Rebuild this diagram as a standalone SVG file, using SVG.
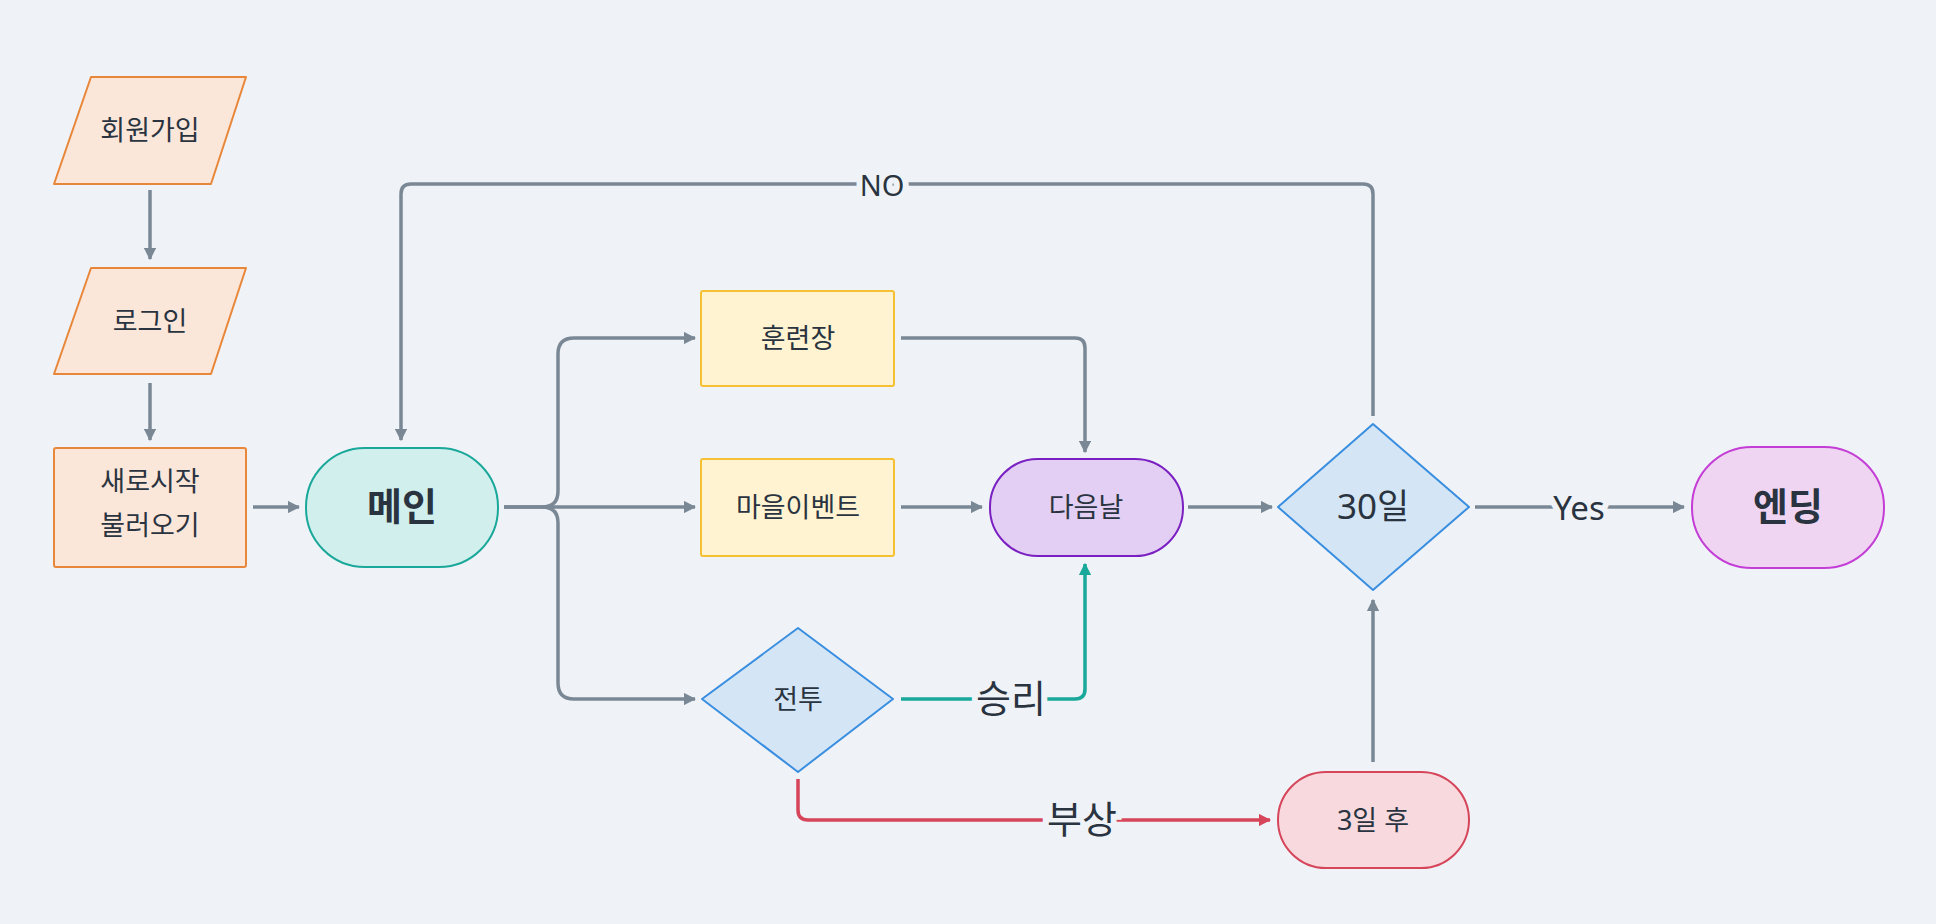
<svg xmlns="http://www.w3.org/2000/svg" width="1936" height="924" viewBox="0 0 1936 924">
<defs>
<marker id="ag" viewBox="0 0 10 10" refX="9" refY="5" markerWidth="3.5" markerHeight="3.5" orient="auto"><path d="M0,0L10,5L0,10z" fill="#7a8896"/></marker>
<marker id="at" viewBox="0 0 10 10" refX="9" refY="5" markerWidth="3.5" markerHeight="3.5" orient="auto"><path d="M0,0L10,5L0,10z" fill="#1aa89a"/></marker>
<marker id="ar" viewBox="0 0 10 10" refX="9" refY="5" markerWidth="3.5" markerHeight="3.5" orient="auto"><path d="M0,0L10,5L0,10z" fill="#d6455a"/></marker>
</defs>
<style>
text{font-family:"Noto Sans","Noto Sans CJK KR",sans-serif;fill:#2a3440;text-anchor:middle;dominant-baseline:central}
.t{font-size:27px}
.b{font-size:38px;font-weight:bold}
.l{font-size:29px;stroke:#eff3f7;stroke-width:12px;paint-order:stroke}
.k{font-size:38px}
.c{fill:none;stroke:#7a8896;stroke-width:3.5;marker-end:url(#ag)}
.io{fill:#fbe6da;stroke:#e8873a;stroke-width:2}
.y{fill:#fff3d1;stroke:#f5c133;stroke-width:2}
</style>
<rect width="1936" height="924" fill="#eff3f7"/>
<g id="connectors">
<path class="c" d="M150,190V259"/>
<path class="c" d="M150,383V440"/>
<path class="c" d="M253,507H299"/>
<path class="c" d="M504,507H542Q558,507 558,491V354Q558,338 574,338H695"/>
<path class="c" d="M504,507H695"/>
<path class="c" d="M542,507Q558,507 558,523V683Q558,699 574,699H695"/>
<path class="c" d="M901,338H1075Q1085,338 1085,348V452"/>
<path class="c" d="M901,507H982"/>
<path fill="none" stroke="#1aa89a" stroke-width="3.5" marker-end="url(#at)" d="M901,699H1075Q1085,699 1085,689V564"/>
<path fill="none" stroke="#d6455a" stroke-width="3.5" marker-end="url(#ar)" d="M798,779V810Q798,820 808,820H1270"/>
<path class="c" d="M1188,507H1272"/>
<path class="c" d="M1373,416V194Q1373,184 1363,184H411Q401,184 401,194V440"/>
<path class="c" d="M1475,507H1684"/>
<path class="c" d="M1373,762V600"/>
<text class="l" x="882" y="184">NO</text>
<text class="l k" x="1011" y="697">승리</text>
<text class="l k" x="1082" y="818">부상</text>
<text class="l" style="font-size:33px" x="1579" y="507">Yes</text>
</g>
<g id="signup"><polygon class="io" points="91,77 246,77 211,184 54,184" stroke-linejoin="round"/><text class="t" x="150" y="129">회원가입</text></g>
<g id="login"><polygon class="io" points="91,268 246,268 211,374 54,374" stroke-linejoin="round"/><text class="t" x="150" y="320">로그인</text></g>
<g id="load"><rect class="io" x="54" y="448" width="192" height="119" rx="2"/><text class="t" x="150" y="480">새로시작</text><text class="t" x="150" y="524">불러오기</text></g>
<g id="main"><rect x="306" y="448" width="192" height="119" rx="59" fill="#d1efec" stroke="#1aa89a" stroke-width="2"/><text class="b" x="402" y="505">메인</text></g>
<g id="train"><rect class="y" x="701" y="291" width="193" height="95" rx="2"/><text class="t" x="798" y="337">훈련장</text></g>
<g id="village"><rect class="y" x="701" y="459" width="193" height="97" rx="2"/><text class="t" x="798" y="506">마을이벤트</text></g>
<g id="battle"><polygon points="798,628 893,699 798,772 702,699" fill="#d4e5f5" stroke="#3a8ee0" stroke-width="2" stroke-linejoin="round"/><text class="t" x="798" y="698">전투</text></g>
<g id="nextday"><rect x="990" y="459" width="193" height="97" rx="48" fill="#e3cff3" stroke="#7a1fc2" stroke-width="2"/><text class="t" x="1086" y="506">다음날</text></g>
<g id="day30"><polygon points="1373,424 1469,507 1373,590 1278,507" fill="#d4e5f5" stroke="#3a8ee0" stroke-width="2" stroke-linejoin="round"/><text style="font-size:35px" x="1373" y="505">30일</text></g>
<g id="ending"><rect x="1692" y="447" width="192" height="121" rx="60" fill="#f0d5f3" stroke="#c33dd6" stroke-width="2"/><text class="b" x="1788" y="505">엔딩</text></g>
<g id="after3"><rect x="1278" y="772" width="191" height="96" rx="48" fill="#f7d9de" stroke="#d6455a" stroke-width="2"/><text class="t" x="1373" y="819">3일 후</text></g>
</svg>
